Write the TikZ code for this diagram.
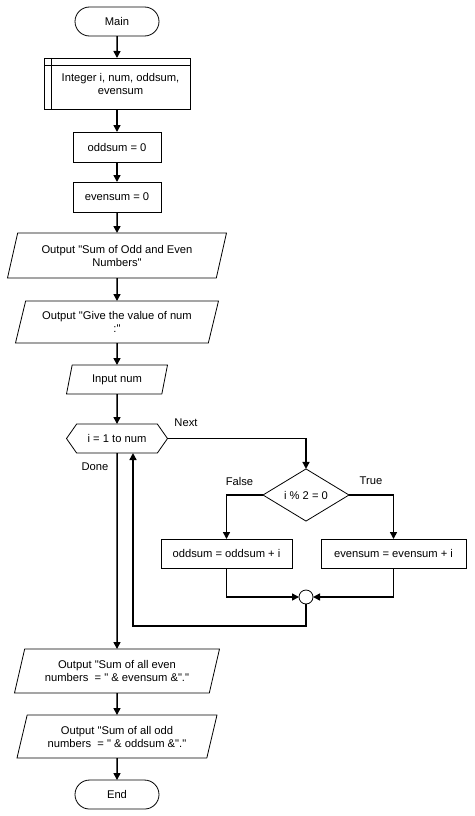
\documentclass[tikz,border=0pt]{standalone}
\usepackage{fontspec}
\newfontfamily\chartfont{Liberation Sans}
\usetikzlibrary{positioning,arrows.meta,shapes.geometric,shapes.misc,shapes.symbols}

\begin{document}
\begin{tikzpicture}[
      x = 1pt, y = -1pt,
      every node/.style = {font = \chartfont\fontsize{11.2}{13}\selectfont, align = center, inner sep = 2pt, outer sep = 0pt},
      box/.style = {draw, line width = 0.8pt, rectangle, minimum width = 88pt, minimum height = 30pt},
      term/.style = {draw, line width = 0.8pt, rounded rectangle, minimum width = 88pt, minimum height = 29pt},
      io/.style = {draw, line width = 0.8pt, trapezium, trapezium left angle = 68, trapezium right angle = 112, trapezium stretches body, minimum height = 44pt},
      loophex/.style = {draw, line width = 0.8pt, signal, signal to = west and east, signal pointer angle = 110, minimum width = 101pt, minimum height = 29pt},
      decision/.style = {draw, line width = 0.8pt, diamond, minimum width = 86pt, minimum height = 44pt, inner sep = 0pt},
      joint/.style = {draw, line width = 0.8pt, circle, minimum size = 14pt, inner sep = 0pt},
      arr/.style = {line width = 1.5pt, -{Triangle[length = 7pt, width = 7pt]}},
      tag/.style = {inner sep = 0pt}
      ]
      \useasboundingbox (0,0) rectangle (474,816);
      \node[term] (main) at (117,21.5) {Main};
      \node[box, below = 22pt of main, minimum width = 146pt, minimum height = 51pt, text depth = -3pt] (decl) {\hspace*{7pt}Integer i, num, oddsum,\\\hspace*{7pt}evensum};
      \node[box, below = 23pt of decl] (odd0) {oddsum = 0};
      \node[box, below = 20pt of odd0] (even0) {evensum = 0};
      \node[io, below = 21pt of even0, minimum width = 219pt, minimum height = 45pt] (out1) {Output "Sum of Odd and Even\\Numbers"};
      \node[io, below = 23pt of out1, minimum width = 203pt, minimum height = 42pt] (out2) {Output "Give the value of num\\:"};
      \node[io, below = 22pt of out2, minimum width = 101pt, minimum height = 29pt] (inp) {Input num};
      \node[loophex, below = 30pt of inp] (loop) {i = 1 to num};
      \node[decision] (cond) at (306,495) {i \% 2 = 0};
      \node[box, minimum width = 131pt, minimum height = 29pt] (oddi) at (226.5,553.5) {oddsum = oddsum + i};
      \node[box, minimum width = 145pt, minimum height = 29pt] (eveni) at (393.5,553.5) {evensum = evensum + i};
      \node[joint] (join) at (306,597) {};
      \coordinate (back) at (133,626);
      \node[io, below = 196pt of loop, minimum width = 205pt] (out3) {Output "Sum of all even\\numbers~ = " \& evensum \&"."};
      \node[io, below = 22pt of out3, minimum width = 200pt, minimum height = 43pt] (out4) {Output "Sum of all odd\\numbers~ = " \& oddsum \&"."};
      \node[term, below = 22pt of out4] (end) {End};
      \node[tag] (next) at (186,423) {Next};
      \node[tag] (done) at (95,467) {Done};
      \node[tag] (false) at (239.5,481) {False};
      \node[tag] (true) at (371,481) {True};
      \draw[line width = 0.8pt] ([xshift = 7pt]decl.north west) -- ([xshift = 7pt]decl.south west);
      \draw[line width = 0.8pt] ([yshift = -7pt]decl.north west) -- ([yshift = -7pt]decl.north east);
      \draw[arr] (main) -- (decl);
      \draw[arr] (decl) -- (odd0);
      \draw[arr] (odd0) -- (even0);
      \draw[arr] (even0) -- (out1);
      \draw[arr] (out1) -- (out2);
      \draw[arr] (out2) -- (inp);
      \draw[arr] (inp) -- (loop);
      \draw[arr] (loop) -- (out3);
      \draw[arr] (loop.east) -| (cond.north);
      \draw[arr] (cond.west) -| (oddi.north);
      \draw[arr] (cond.east) -| (eveni.north);
      \draw[arr] (oddi.south) |- (join.west);
      \draw[arr] (eveni.south) |- (join.east);
      \draw[arr] (join.south) |- (back) -- (back |- loop.south);
      \draw[arr] (out3) -- (out4);
      \draw[arr] (out4) -- (end);
\end{tikzpicture}
\end{document}
